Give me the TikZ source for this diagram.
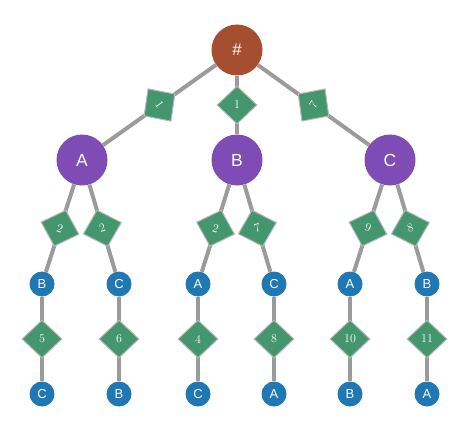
\documentclass[tikz,border=0pt]{standalone}
\usepackage{fontspec}
\setsansfont{Liberation Sans}
\usetikzlibrary{shapes.geometric,calc}
\definecolor{rootc}{RGB}{165,78,48}
\definecolor{purc}{RGB}{126,76,180}
\definecolor{bluec}{RGB}{31,119,180}
\definecolor{grnc}{RGB}{67,150,110}
\definecolor{edgec}{RGB}{155,155,155}
\tikzset{
  root/.style={circle, fill=rootc, minimum size=51pt, inner sep=0pt, text=white,
    font=\sffamily\fontsize{17}{17}\selectfont},
  mid/.style={circle, fill=purc, minimum size=51pt, inner sep=0pt, text=white,
    font=\sffamily\fontsize{17.5}{17.5}\selectfont},
  leaf/.style={circle, fill=bluec, minimum size=25pt, inner sep=0pt, text=white,
    font=\sffamily\fontsize{13}{13}\selectfont},
  lbl/.style={diamond, fill=grnc, draw=gray!55, line width=1pt, minimum width=40pt,
    minimum height=38pt, inner sep=0pt, text=white, font=\fontsize{12}{12}\selectfont},
  branch/.style={draw=edgec, line width=4pt},
}
% edge with a diamond label turned along the edge
\newcommand\branchto[3]{%
  \draw [branch] let \p1=($(#2)-(#1)$), \n1={atan2(\y1,\x1)+90} in
    (#1) -- node [lbl, rotate=\n1] {#3} (#2);}

\begin{document}
\begin{tikzpicture}[x=1pt, y=-1pt]
  \useasboundingbox (0,0) rectangle (474,436);

  \node (r) [root] at (237,50) {\#};

  \node (a) [mid] at (82,160) {A};
  \node (b) [mid] at (237,160) {B};
  \node (c) [mid] at (390,160) {C};

  \node (ab) [leaf] at (42,284) {B};
  \node (ac) [leaf] at (119,284) {C};
  \node (ba) [leaf] at (198,284) {A};
  \node (bc) [leaf] at (274,284) {C};
  \node (ca) [leaf] at (350,284) {A};
  \node (cb) [leaf] at (427,284) {B};

  \node (abc) [leaf] at (42,394) {C};
  \node (acb) [leaf] at (119,394) {B};
  \node (bac) [leaf] at (198,394) {C};
  \node (bca) [leaf] at (274,394) {A};
  \node (cab) [leaf] at (350,394) {B};
  \node (cba) [leaf] at (427,394) {A};

  \branchto{r}{a}{1}
  \branchto{r}{b}{1}
  \branchto{r}{c}{7}

  \branchto{a}{ab}{2}
  \branchto{a}{ac}{2}
  \branchto{b}{ba}{2}
  \branchto{b}{bc}{7}
  \branchto{c}{ca}{9}
  \branchto{c}{cb}{8}

  \branchto{ab}{abc}{5}
  \branchto{ac}{acb}{6}
  \branchto{ba}{bac}{4}
  \branchto{bc}{bca}{8}
  \branchto{ca}{cab}{10}
  \branchto{cb}{cba}{11}
\end{tikzpicture}
\end{document}
